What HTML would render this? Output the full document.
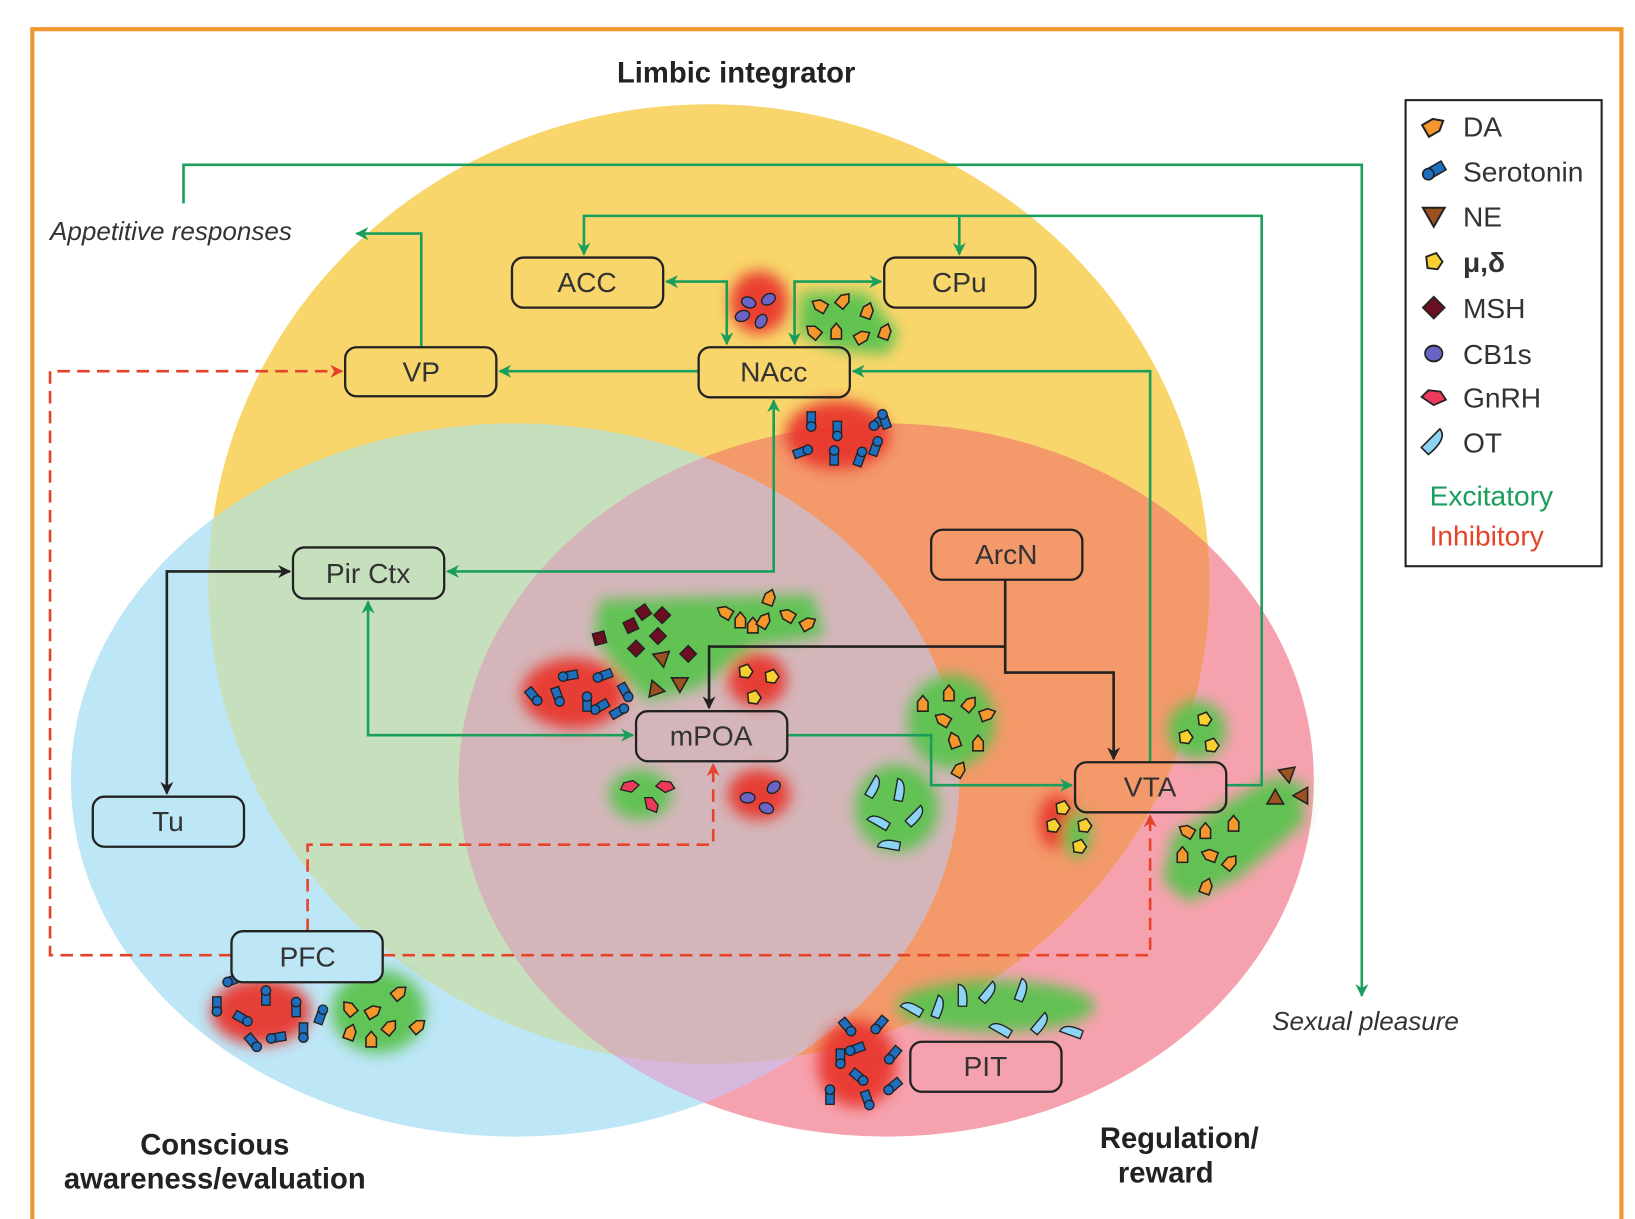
<!DOCTYPE html>
<html><head><meta charset="utf-8"><style>
html,body{margin:0;padding:0;background:#fff;}
svg{display:block;}
text{font-family:"Liberation Sans",sans-serif;}
.nd{font-size:27px;fill:#333;text-anchor:middle;}
.lg{font-size:27px;fill:#333;}
.hd{font-family:"Liberation Sans Narrow","Liberation Sans",sans-serif;font-weight:bold;font-size:28px;fill:#222;text-anchor:middle;}
</style></head><body>
<svg width="1635" height="1219" viewBox="0 0 1568 1169" xmlns="http://www.w3.org/2000/svg">
<defs>
<clipPath id="cY"><ellipse cx="680" cy="560" rx="480" ry="460"/></clipPath>
<clipPath id="cB"><ellipse cx="494" cy="748" rx="426" ry="342"/></clipPath>
<clipPath id="cP"><ellipse cx="850" cy="748" rx="410" ry="342"/></clipPath>
<filter id="bl" x="-50%" y="-50%" width="200%" height="200%"><feGaussianBlur stdDeviation="7"/></filter>
<marker id="ag" viewBox="0 0 10 10" refX="9" refY="5" markerWidth="5" markerHeight="5" orient="auto-start-reverse"><path d="M0,0 L10,5 L0,10 L3,5z" fill="#1a9e5c"/></marker>
<marker id="ak" viewBox="0 0 10 10" refX="9" refY="5" markerWidth="5" markerHeight="5" orient="auto-start-reverse"><path d="M0,0 L10,5 L0,10 L3,5z" fill="#222"/></marker>
<marker id="ar" viewBox="0 0 10 10" refX="9" refY="5" markerWidth="5" markerHeight="5" orient="auto-start-reverse"><path d="M0,0 L10,5 L0,10 L3,5z" fill="#e5432a"/></marker>
<g id="da"><path d="M-5,7 L-5,-2 L0,-8 L5,-2 L5,7z" fill="#f4982e" stroke="#222" stroke-width="1.5"/></g>
<g id="se"><rect x="-4" y="-9" width="8" height="12" fill="#1e6fc0" stroke="#222" stroke-width="1.3"/><circle cx="0" cy="5" r="4.5" fill="#1e6fc0" stroke="#222" stroke-width="1.3"/></g>
<g id="ne"><path d="M-8,-6 L8,-6 L0,8z" fill="#9b5220" stroke="#222" stroke-width="1.5"/></g>
<g id="mu"><path d="M-6,-4 L2,-7 L7,0 L3,6 L-5,5z" fill="#f8d030" stroke="#222" stroke-width="1.5"/></g>
<g id="ms"><path d="M0,-8 L8,0 L0,8 L-8,0z" fill="#6b0e22" stroke="#222" stroke-width="1.3"/></g>
<g id="cb"><ellipse cx="0" cy="0" rx="7" ry="5" fill="#6a64c4" stroke="#222" stroke-width="1.3"/></g>
<g id="gn"><path d="M-9,-1 L-4,-6 L5,-5 L9,1 L0,5z" fill="#ee3a5a" stroke="#222" stroke-width="1.3"/></g>
<g id="ot"><path d="M-4,-11 Q6,-10 4,10 L-4,10z" fill="#8dd3f3" stroke="#222" stroke-width="1.3"/></g>
</defs>
<rect width="1568" height="1169" fill="#fff"/>
<ellipse cx="494" cy="748" rx="426" ry="342" fill="#bde6f7"/>
<ellipse cx="850" cy="748" rx="410" ry="342" fill="#f6a2ae"/>
<ellipse cx="680" cy="560" rx="480" ry="460" fill="#f9d66b"/>
<g clip-path="url(#cB)"><ellipse cx="850" cy="748" rx="410" ry="342" fill="#d7b8dc"/></g>
<g clip-path="url(#cY)"><ellipse cx="494" cy="748" rx="426" ry="342" fill="#c6dfbd"/><ellipse cx="850" cy="748" rx="410" ry="342" fill="#f3996a"/></g>
<g clip-path="url(#cY)"><g clip-path="url(#cB)"><ellipse cx="850" cy="748" rx="410" ry="342" fill="#d4b6ba"/></g></g>
<path d="M31,1175 L31,28 L1555,28 L1555,1175" fill="none" stroke="#f0962e" stroke-width="4"/>
<g filter="url(#bl)" opacity="0.95">
<ellipse cx="728" cy="290" rx="28" ry="30" fill="#e8392f"/>
<path d="M768,280 L830,280 L862,320 L850,340 L800,335 L765,320z" fill="#5cc34f"/>
<ellipse cx="803" cy="417" rx="50" ry="33" fill="#e8392f"/>
<path d="M575,575 L780,570 L790,610 L720,620 L670,660 L620,672 L590,640 L570,610z" fill="#5cc34f"/>
<ellipse cx="550" cy="665" rx="50" ry="34" fill="#e8392f"/>
<ellipse cx="726" cy="652" rx="28" ry="26" fill="#e8392f"/>
<ellipse cx="614" cy="762" rx="30" ry="24" fill="#5cc34f"/>
<ellipse cx="728" cy="762" rx="30" ry="24" fill="#e8392f"/>
<ellipse cx="912" cy="692" rx="42" ry="45" fill="#5cc34f"/>
<ellipse cx="860" cy="775" rx="40" ry="42" fill="#5cc34f"/>
<ellipse cx="1014" cy="788" rx="18" ry="26" fill="#e8392f"/>
<ellipse cx="1033" cy="800" rx="13" ry="22" fill="#5cc34f"/>
<ellipse cx="1148" cy="700" rx="28" ry="28" fill="#5cc34f"/>
<path d="M1125,800 L1220,745 L1250,750 L1250,790 L1190,840 L1140,865 L1115,845z" fill="#5cc34f"/>
<ellipse cx="250" cy="970" rx="48" ry="32" fill="#e8392f"/>
<ellipse cx="363" cy="970" rx="45" ry="40" fill="#5cc34f"/>
<ellipse cx="955" cy="965" rx="95" ry="25" fill="#5cc34f"/>
<ellipse cx="822" cy="1020" rx="38" ry="42" fill="#e8392f"/>
</g>
<use href="#cb" transform="translate(718,290) rotate(20)"/><use href="#cb" transform="translate(737,287) rotate(-30)"/><use href="#cb" transform="translate(712,303) rotate(-20)"/><use href="#cb" transform="translate(730,308) rotate(-60)"/>
<g transform="translate(-3,-12)">
<use href="#da" transform="translate(789,305) rotate(-60)"/><use href="#da" transform="translate(812,300) rotate(40)"/><use href="#da" transform="translate(835,310) rotate(20)"/><use href="#da" transform="translate(783,330) rotate(-50)"/><use href="#da" transform="translate(805,330)"/><use href="#da" transform="translate(830,335) rotate(60)"/><use href="#da" transform="translate(852,330) rotate(20)"/>
</g>
<use href="#se" transform="translate(803,413)"/><use href="#se" transform="translate(842,405) rotate(50)"/><use href="#se" transform="translate(840,428) rotate(200)"/><use href="#se" transform="translate(800,437) rotate(180)"/><use href="#se" transform="translate(825,438) rotate(200)"/><use href="#se" transform="translate(770,433) rotate(250)"/><use href="#se" transform="translate(778,404)"/><use href="#se" transform="translate(848,402) rotate(160)"/>
<g transform="translate(5,-18)">
<use href="#ms" transform="translate(612,605) rotate(10)"/><use href="#ms" transform="translate(630,608)"/><use href="#ms" transform="translate(600,618) rotate(20)"/><use href="#ms" transform="translate(626,628)"/><use href="#ms" transform="translate(605,640)"/><use href="#ms" transform="translate(655,645)"/><use href="#ms" transform="translate(570,630) rotate(30)"/>
</g>
<g transform="translate(0,-30)">
<use href="#ne" transform="translate(635,662) rotate(-10)"/><use href="#ne" transform="translate(628,690) rotate(160)"/><use href="#ne" transform="translate(652,686)"/>
</g>
<g transform="translate(-5,-5)">
<use href="#da" transform="translate(700,592) rotate(-60)"/><use href="#da" transform="translate(715,600)"/><use href="#da" transform="translate(727,605)"/><use href="#da" transform="translate(738,600) rotate(30)"/><use href="#da" transform="translate(743,578) rotate(20)"/><use href="#da" transform="translate(760,595) rotate(-60)"/><use href="#da" transform="translate(780,603) rotate(60)"/>
</g>
<g transform="translate(0,-12)">
<use href="#se" transform="translate(535,680) rotate(-20)"/><use href="#se" transform="translate(545,660) rotate(80)"/><use href="#se" transform="translate(575,690) rotate(60)"/><use href="#se" transform="translate(600,676) rotate(-30)"/><use href="#se" transform="translate(512,680) rotate(-40)"/><use href="#se" transform="translate(563,685) rotate(180)"/><use href="#se" transform="translate(594,694) rotate(240)"/><use href="#se" transform="translate(578,660) rotate(70)"/>
</g>
<g transform="translate(-5,-28)">
<use href="#mu" transform="translate(720,672)"/><use href="#mu" transform="translate(745,677)"/><use href="#mu" transform="translate(728,697)"/>
</g>
<g transform="translate(-10,-25)">
<use href="#gn" transform="translate(614,780) rotate(-20)"/><use href="#gn" transform="translate(648,780)"/><use href="#gn" transform="translate(634,797) rotate(45)"/>
</g>
<g transform="translate(-10,-25)">
<use href="#cb" transform="translate(752,780) rotate(-40)"/><use href="#cb" transform="translate(727,790)"/><use href="#cb" transform="translate(745,800) rotate(20)"/>
</g>
<g transform="translate(-8,-32)">
<use href="#da" transform="translate(893,707)"/><use href="#da" transform="translate(918,697)"/><use href="#da" transform="translate(938,707) rotate(40)"/><use href="#da" transform="translate(912,722) rotate(-60)"/><use href="#da" transform="translate(955,717) rotate(70)"/><use href="#da" transform="translate(923,742) rotate(-20)"/><use href="#da" transform="translate(946,745)"/><use href="#da" transform="translate(928,770) rotate(30)"/>
</g>
<g transform="translate(-22,-42)">
<use href="#ot" transform="translate(860,797) rotate(30)"/><use href="#ot" transform="translate(885,800) rotate(10)"/><use href="#ot" transform="translate(900,825) rotate(45)"/><use href="#ot" transform="translate(865,830) rotate(-60)"/><use href="#ot" transform="translate(875,852) rotate(-80)"/>
</g>
<g transform="translate(-5,-30)">
<use href="#mu" transform="translate(1024,805)"/><use href="#mu" transform="translate(1015,822)"/><use href="#mu" transform="translate(1045,822)"/><use href="#mu" transform="translate(1040,842)"/>
</g>
<g transform="translate(-10,-15)">
<use href="#mu" transform="translate(1165,705)"/><use href="#mu" transform="translate(1147,722)"/><use href="#mu" transform="translate(1172,730)"/>
</g>
<g transform="translate(-10,-35)">
<use href="#da" transform="translate(1148,832) rotate(-60)"/><use href="#da" transform="translate(1166,832)"/><use href="#da" transform="translate(1193,825)"/><use href="#da" transform="translate(1144,855)"/><use href="#da" transform="translate(1170,855) rotate(-70)"/><use href="#da" transform="translate(1190,862) rotate(40)"/><use href="#da" transform="translate(1167,885) rotate(20)"/>
</g>
<g transform="translate(-15,-30)">
<use href="#ne" transform="translate(1250,773) rotate(-10)"/><use href="#ne" transform="translate(1238,795) rotate(180)"/><use href="#ne" transform="translate(1263,793) rotate(90)"/>
</g>
<g transform="translate(-5,-35)">
<use href="#se" transform="translate(228,975) rotate(70)"/><use href="#se" transform="translate(260,990) rotate(180)"/><use href="#se" transform="translate(289,1001) rotate(180)"/><use href="#se" transform="translate(213,1000)"/><use href="#se" transform="translate(238,1012) rotate(-60)"/><use href="#se" transform="translate(270,1030) rotate(80)"/><use href="#se" transform="translate(296,1025)"/><use href="#se" transform="translate(248,1035) rotate(-40)"/><use href="#se" transform="translate(313,1008) rotate(200)"/>
</g>
<g transform="translate(-12,-50)">
<use href="#da" transform="translate(347,1017) rotate(-40)"/><use href="#da" transform="translate(370,1020) rotate(60)"/><use href="#da" transform="translate(395,1002) rotate(50)"/><use href="#da" transform="translate(348,1040) rotate(20)"/><use href="#da" transform="translate(368,1047)"/><use href="#da" transform="translate(386,1035) rotate(40)"/><use href="#da" transform="translate(413,1034) rotate(50)"/>
</g>
<g transform="translate(-45,-38)">
<use href="#ot" transform="translate(920,1005) rotate(-60)"/><use href="#ot" transform="translate(945,1004) rotate(20)"/><use href="#ot" transform="translate(968,993)"/><use href="#ot" transform="translate(993,990) rotate(40)"/><use href="#ot" transform="translate(1025,988) rotate(20)"/><use href="#ot" transform="translate(1005,1025) rotate(-60)"/><use href="#ot" transform="translate(1043,1020) rotate(40)"/><use href="#ot" transform="translate(1073,1027) rotate(-70)"/>
</g>
<g transform="translate(-2,-40)">
<use href="#se" transform="translate(815,1025) rotate(-40)"/><use href="#se" transform="translate(845,1023) rotate(40)"/><use href="#se" transform="translate(822,1046) rotate(70)"/><use href="#se" transform="translate(808,1055)"/><use href="#se" transform="translate(858,1052) rotate(40)"/><use href="#se" transform="translate(826,1073) rotate(-50)"/><use href="#se" transform="translate(858,1082) rotate(50)"/><use href="#se" transform="translate(798,1090) rotate(180)"/><use href="#se" transform="translate(834,1095) rotate(-20)"/>
</g>
<g fill="none" stroke="#1a9e5c" stroke-width="2.5">
<path d="M176,195 L176,158 L1306,158 L1306,955" marker-end="url(#ag)"/>
<path d="M404,333 L404,224 L342,224" marker-end="url(#ag)"/>
<path d="M670,356 L479,356" marker-end="url(#ag)"/>
<path d="M639,270 L697,270 L697,330" marker-start="url(#ag)" marker-end="url(#ag)"/>
<path d="M845,270 L762,270 L762,330" marker-start="url(#ag)" marker-end="url(#ag)"/>
<path d="M1176,753 L1210,753 L1210,207 L560,207 L560,244" marker-end="url(#ag)"/>
<path d="M920,207 L920,244" marker-end="url(#ag)"/>
<path d="M1103,731 L1103,356 L818,356" marker-end="url(#ag)"/>
<path d="M742,384 L742,548 L429,548" marker-start="url(#ag)" marker-end="url(#ag)"/>
<path d="M353,577 L353,705 L607,705" marker-start="url(#ag)" marker-end="url(#ag)"/>
<path d="M755,705 L893,705 L893,753 L1028,753" marker-end="url(#ag)"/>
</g>
<g fill="none" stroke="#222" stroke-width="2.5">
<path d="M278,548 L160,548 L160,761" marker-start="url(#ak)" marker-end="url(#ak)"/>
<path d="M964,556 L964,620 L680,620 L680,679" marker-end="url(#ak)"/>
<path d="M964,620 L964,645 L1068,645 L1068,728" marker-end="url(#ak)"/>
</g>
<g fill="none" stroke="#e5432a" stroke-width="2.5" stroke-dasharray="12,7">
<path d="M222,916 L48,916 L48,356 L328,356" marker-end="url(#ar)"/>
<path d="M295,893 L295,810 L684,810 L684,733" marker-end="url(#ar)"/>
<path d="M367,916 L1103,916 L1103,782" marker-end="url(#ar)"/>
</g>
<g fill="none" stroke="#222" stroke-width="2.2">
<rect x="491" y="247" width="145" height="48" rx="11"/>
<rect x="848" y="247" width="145" height="48" rx="11"/>
<rect x="331" y="333" width="145" height="47" rx="11"/>
<rect x="670" y="333" width="145" height="48" rx="11"/>
<rect x="281" y="525" width="145" height="49" rx="11"/>
<rect x="893" y="508" width="145" height="48" rx="11"/>
<rect x="610" y="682" width="145" height="48" rx="11"/>
<rect x="1031" y="731" width="145" height="48" rx="11"/>
<rect x="89" y="764" width="145" height="48" rx="11" fill="#bde6f7"/>
<rect x="222" y="893" width="145" height="49" rx="11" fill="#bde6f7"/>
<rect x="873" y="999" width="145" height="48" rx="11"/>
</g>
<text x="563" y="280" class="nd">ACC</text>
<text x="920" y="280" class="nd">CPu</text>
<text x="404" y="366" class="nd">VP</text>
<text x="742" y="366" class="nd">NAcc</text>
<text x="353" y="559" class="nd">Pir Ctx</text>
<text x="965" y="541" class="nd">ArcN</text>
<text x="682" y="715" class="nd">mPOA</text>
<text x="1103" y="764" class="nd">VTA</text>
<text x="161" y="797" class="nd">Tu</text>
<text x="295" y="927" class="nd">PFC</text>
<text x="945" y="1032" class="nd">PIT</text>
<text x="706" y="79" class="hd">Limbic integrator</text>
<text x="206" y="1107" class="hd">Conscious</text>
<text x="206" y="1140" class="hd">awareness/evaluation</text>
<text x="1131" y="1101" class="hd">Regulation/</text>
<text x="1118" y="1134" class="hd">reward</text>
<text x="48" y="230" font-size="25" font-style="italic" fill="#333">Appetitive responses</text>
<text x="1220" y="988" font-size="25" font-style="italic" fill="#333">Sexual pleasure</text>
<rect x="1348" y="96" width="188" height="447" fill="#fff" stroke="#222" stroke-width="2"/>
<use href="#da" transform="translate(1375,121) rotate(60) scale(1.3)"/>
<use href="#se" transform="translate(1375,164) rotate(60) scale(1.2)"/>
<use href="#ne" transform="translate(1375,207) scale(1.3)"/>
<use href="#mu" transform="translate(1375,251) scale(1.2)"/>
<use href="#ms" transform="translate(1375,295) scale(1.3)"/>
<use href="#cb" transform="translate(1375,339) scale(1.2,1.5)"/>
<use href="#gn" transform="translate(1375,382) scale(1.3)"/>
<use href="#ot" transform="translate(1375,424) rotate(45) scale(1.2)"/>
<text x="1403" y="131" class="lg">DA</text>
<text x="1403" y="174" class="lg">Serotonin</text>
<text x="1403" y="217" class="lg">NE</text>
<text x="1403" y="261" class="lg" font-family="Liberation Serif" font-weight="bold">μ,δ</text>
<text x="1403" y="305" class="lg">MSH</text>
<text x="1403" y="349" class="lg">CB1s</text>
<text x="1403" y="391" class="lg">GnRH</text>
<text x="1403" y="434" class="lg">OT</text>
<text x="1371" y="485" font-size="27" fill="#1a9e5c">Excitatory</text>
<text x="1371" y="523" font-size="27" fill="#e5432a">Inhibitory</text>
</svg>
</body></html>
